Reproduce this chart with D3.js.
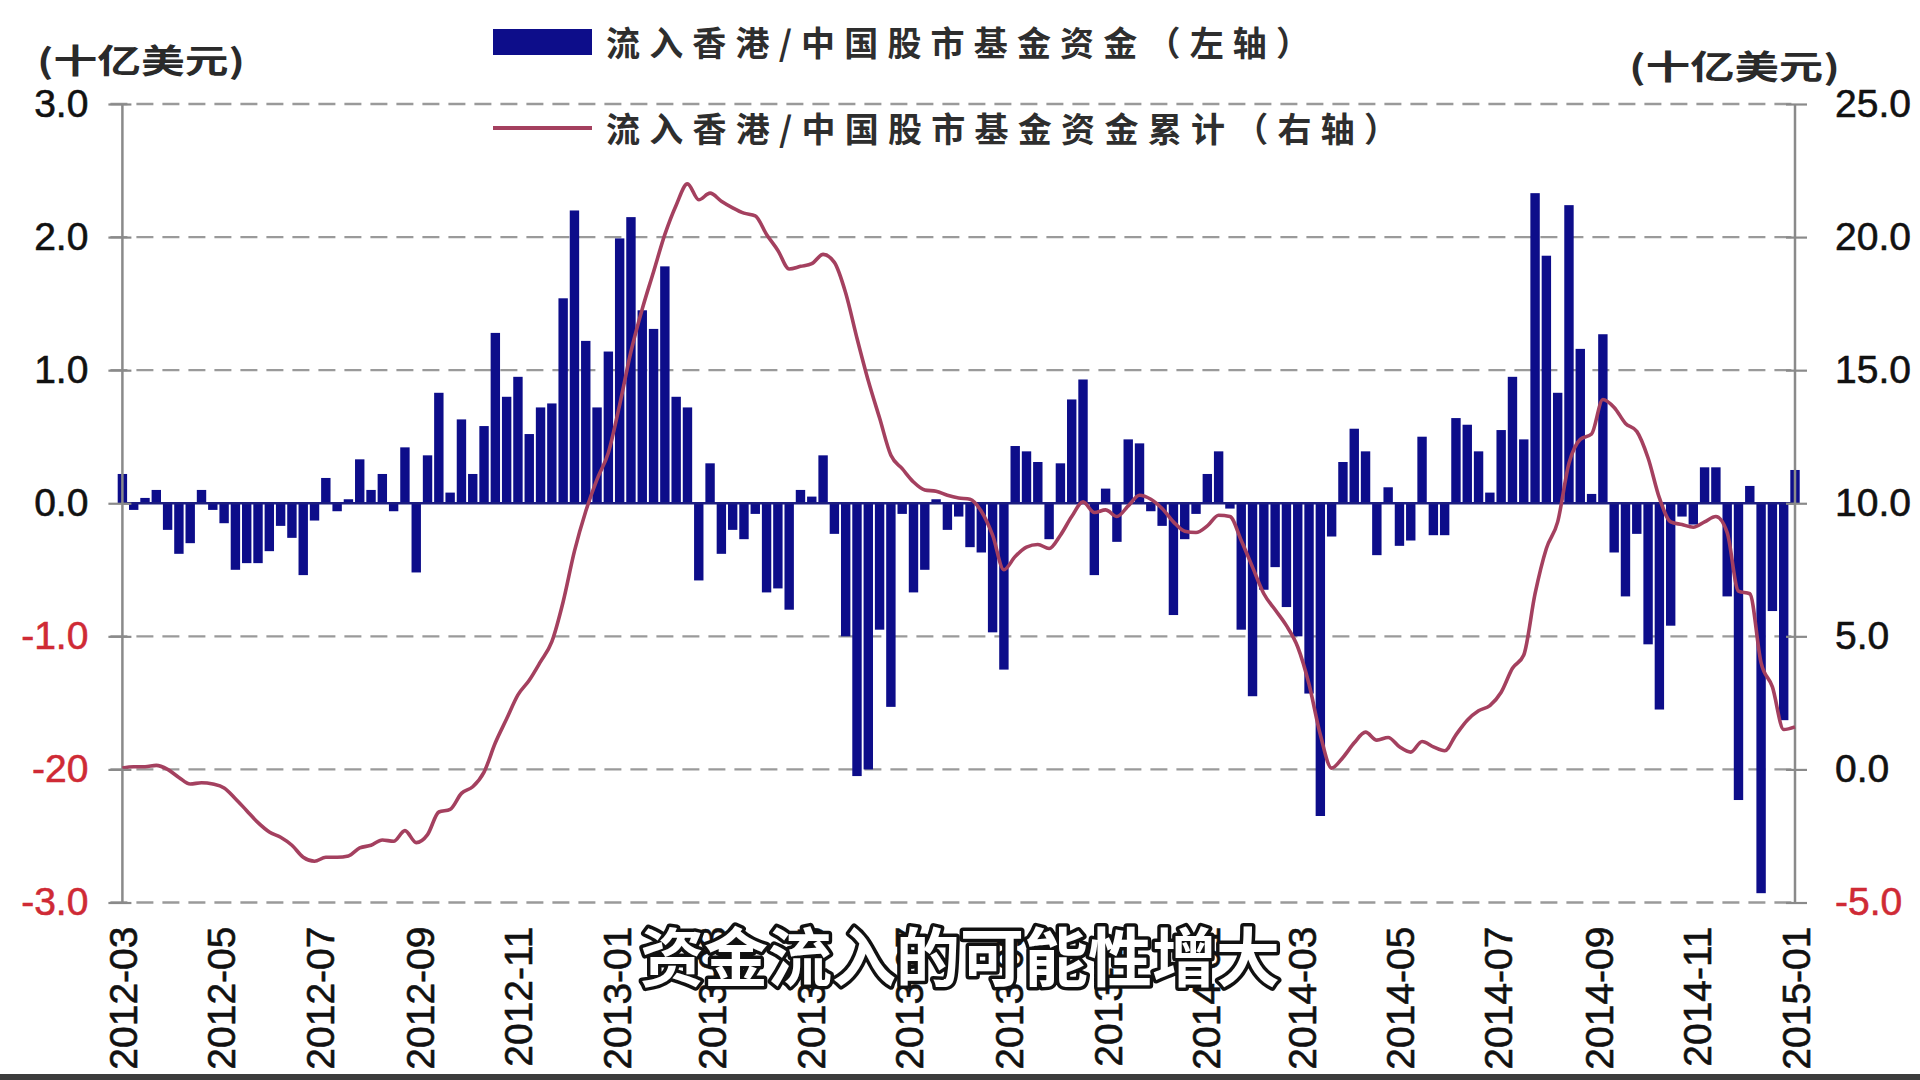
<!DOCTYPE html>
<html>
<head>
<meta charset="utf-8">
<script src="https://cdn.jsdelivr.net/npm/d3@7"></script>
<style>
  html, body { margin: 0; padding: 0; background: #ffffff; }
  svg { display: block; }
</style>
</head>
<body>
<svg id="chart" width="1920" height="1080"></svg>
<script>
// ---------------- DATA ----------------
const startWeek = "2012-03-01";          // first weekly observation
const endWeek = "2015-01-01";

// weekly fund flows into HK / China equity funds, USD bn (left axis)
const flows = [
  0.22, -0.05, 0.04, 0.10, -0.20, -0.38, -0.30, 0.10, -0.05, -0.15,
  -0.50, -0.45, -0.45, -0.36, -0.17, -0.26, -0.54, -0.13, 0.19,
  -0.06, 0.03, 0.33, 0.10, 0.22, -0.06, 0.42, -0.52, 0.36, 0.83,
  0.08, 0.63, 0.22, 0.58, 1.28, 0.80, 0.95, 0.52, 0.72, 0.75,
  1.54, 2.20, 1.22,
  0.72, 1.14, 1.99, 2.15, 1.45, 1.31, 1.78, 0.80, 0.72, -0.58,
  0.30, -0.38, -0.20,
  -0.27, -0.08, -0.67, -0.64, -0.80, 0.10, 0.05, 0.36, -0.23, -1.00,
  -2.05, -2.00, -0.95, -1.53, -0.08, -0.67, -0.50, 0.03, -0.20, -0.10,
  -0.33, -0.37, -0.97, -1.25,
  0.43, 0.39, 0.31, -0.27, 0.30, 0.78, 0.93, -0.54, 0.11, -0.29,
  0.48, 0.45, -0.06, -0.17, -0.84, -0.27, -0.08, 0.22, 0.39, -0.04,
  -0.95, -1.45,
  -0.65, -0.48, -0.78, -1.00, -1.43, -2.35, -0.25, 0.31, 0.56, 0.39,
  -0.39, 0.12, -0.32, -0.28, 0.50, -0.24, -0.24, 0.64, 0.59, 0.39,
  0.08, 0.55, 0.95, 0.48,
  2.33, 1.86, 0.83, 2.24, 1.16, 0.07, 1.27, -0.37, -0.70, -0.23,
  -1.06, -1.55, -0.92, -0.10, -0.16, 0.27, 0.27, -0.70, -2.23, 0.13,
  -2.93, -0.81, -1.63, 0.25
];

// cumulative flows, USD bn (right axis)
const cumulative = [
  0.05, 0.10, 0.10, 0.15, 0.00, -0.30, -0.55, -0.50, -0.55, -0.70,
  -1.10, -1.55, -2.00, -2.35, -2.55, -2.85, -3.30, -3.45, -3.30,
  -3.30, -3.25, -2.95, -2.85, -2.65, -2.70, -2.30, -2.75, -2.45, -1.60,
  -1.50, -0.90, -0.65, -0.10, 1.00, 1.90, 2.80, 3.35, 4.05, 4.80,
  6.30, 8.20, 9.70,
  10.90, 11.90, 13.70, 15.70, 17.30, 18.70, 20.10, 21.20, 22.00, 21.40,
  21.65, 21.35, 21.10,
  20.90, 20.80, 20.10, 19.50, 18.80, 18.90, 19.00, 19.35, 19.05, 17.90,
  16.20, 14.60, 13.20, 11.80, 11.30, 10.80, 10.50, 10.45, 10.30, 10.20,
  10.15, 9.70, 8.80, 7.50,
  8.00, 8.35, 8.45, 8.30, 8.80, 9.50, 10.05, 9.65, 9.75, 9.50,
  9.90, 10.30, 10.15, 9.80, 9.30, 8.95, 8.90, 9.15, 9.55, 9.50,
  8.60, 7.60,
  6.60, 6.00, 5.40, 4.60, 3.20, 1.30, 0.05, 0.45, 1.00, 1.40,
  1.10, 1.20, 0.85, 0.65, 1.05, 0.85, 0.70, 1.30, 1.85, 2.20,
  2.40, 2.90, 3.80, 4.30,
  6.60, 8.30, 9.30, 11.50, 12.40, 12.60, 13.90, 13.60, 13.00, 12.70,
  11.70, 10.20, 9.30, 9.20, 9.10, 9.30, 9.50, 8.90, 6.70, 6.60,
  4.00, 3.10, 1.50, 1.60
];

const xTickLabels = [
  "2012-03", "2012-05", "2012-07", "2012-09", "2012-11",
  "2013-01", "2013-03", "2013-05", "2013-07", "2013-09", "2013-11",
  "2014-01", "2014-03", "2014-05", "2014-07", "2014-09", "2014-11",
  "2015-01"
];
const leftTickValues = [3, 2, 1, 0, -1, -2, -3];
const leftTickLabels = ["3.0", "2.0", "1.0", "0.0", "-1.0", "-20", "-3.0"];
const rightTickValues = [25, 20, 15, 10, 5, 0, -5];
const rightTickLabels = ["25.0", "20.0", "15.0", "10.0", "5.0", "0.0", "-5.0"];

const legendLabels = ["流入香港/中国股市基金资金（左轴）", "流入香港/中国股市基金资金累计（右轴）"];
const unitLabel = "(十亿美元)";
const subtitle = "资金流入的可能性增大";

// ---------------- LAYOUT ----------------
const svg = d3.select("#chart");
const parseDay = d3.timeParse("%Y-%m-%d");
const parseMonth = d3.timeParse("%Y-%m");
const start = parseDay(startWeek);
const weeks = flows.map((_, i) => d3.timeDay.offset(start, 7 * i));

const plotLeft = 122.4, plotRight = 1795, plotTop = 104, plotBottom = 902.5;

const x = d3.scaleTime().domain([start, parseDay(endWeek)]).range([plotLeft, plotRight]);
const yL = d3.scaleLinear().domain([-3, 3]).range([plotBottom, plotTop]);
const yR = d3.scaleLinear().domain([-5, 25]).range([plotBottom, plotTop]);

const numFont = "'Liberation Sans', Arial, sans-serif";
const cjkFont = "'Noto Sans CJK SC', 'Noto Sans', sans-serif";
const red = "#cf2a35";
const navy = "#0d0d8a";
const lineColor = "#a4405f";

// gridlines (dashed), except at zero
const grid = svg.append("g");
grid.selectAll("line")
  .data(leftTickValues.filter(v => v !== 0))
  .join("line")
  .attr("x1", plotLeft - 12).attr("x2", plotRight)
  .attr("y1", d => yL(d)).attr("y2", d => yL(d))
  .attr("stroke", "#9a9a9a").attr("stroke-width", 2.4)
  .attr("stroke-dasharray", "17,9");

// bars
const barW = 9.4;
svg.append("g").selectAll("rect")
  .data(flows)
  .join("rect")
  .attr("x", (d, i) => x(weeks[i]) - barW / 2)
  .attr("y", d => yL(Math.max(0, d)))
  .attr("width", barW)
  .attr("height", d => Math.abs(yL(d) - yL(0)))
  .attr("fill", navy);

// zero line
svg.append("line")
  .attr("x1", plotLeft).attr("x2", plotRight)
  .attr("y1", yL(0)).attr("y2", yL(0))
  .attr("stroke", "#1c1c80").attr("stroke-width", 2.5);

// axis lines
svg.append("line").attr("x1", plotLeft).attr("x2", plotLeft)
  .attr("y1", plotTop).attr("y2", plotBottom)
  .attr("stroke", "#8a8a8a").attr("stroke-width", 2.5);
svg.append("line").attr("x1", plotRight).attr("x2", plotRight)
  .attr("y1", plotTop).attr("y2", plotBottom)
  .attr("stroke", "#8a8a8a").attr("stroke-width", 2.5);

// cumulative line
const line = d3.line()
  .x((d, i) => x(weeks[i]))
  .y(d => yR(d))
  .curve(d3.curveMonotoneX);
svg.append("path")
  .datum(cumulative)
  .attr("d", line)
  .attr("fill", "none")
  .attr("stroke", lineColor)
  .attr("stroke-width", 3.6)
  .attr("stroke-linejoin", "round");

// left axis
const leftAxis = svg.append("g")
  .attr("transform", `translate(${plotLeft},0)`)
  .call(d3.axisLeft(yL).tickValues(leftTickValues)
    .tickFormat((d, i) => leftTickLabels[i]).tickSize(0).tickPadding(34));
leftAxis.select(".domain").remove();
leftAxis.selectAll("text")
  .attr("font-family", numFont).attr("font-size", 39)
  .attr("fill", d => d < 0 ? red : "#111")
  .attr("stroke", d => d < 0 ? red : "#111").attr("stroke-width", 0.6);
leftAxis.selectAll(".tick").append("line")
  .attr("x1", -14).attr("x2", 9).attr("stroke", "#8a8a8a").attr("stroke-width", 2.2);

// right axis
const rightAxis = svg.append("g")
  .attr("transform", `translate(${plotRight},0)`)
  .call(d3.axisRight(yR).tickValues(rightTickValues)
    .tickFormat((d, i) => rightTickLabels[i]).tickSize(0).tickPadding(40));
rightAxis.select(".domain").remove();
rightAxis.selectAll("text")
  .attr("font-family", numFont).attr("font-size", 39)
  .attr("fill", d => d < 0 ? red : "#111")
  .attr("stroke", d => d < 0 ? red : "#111").attr("stroke-width", 0.6);
rightAxis.selectAll(".tick").append("line")
  .attr("x1", -9).attr("x2", 12).attr("stroke", "#8a8a8a").attr("stroke-width", 2.2);

// bottom (date) axis
const xTickDates = xTickLabels.map(s => parseMonth(s));
const bottomAxis = svg.append("g")
  .attr("transform", `translate(0,${plotBottom})`)
  .call(d3.axisBottom(x).tickValues(xTickDates)
    .tickFormat((d, i) => xTickLabels[i]).tickSize(0));
bottomAxis.select(".domain").remove();
bottomAxis.selectAll("text")
  .attr("transform", "rotate(-90)")
  .attr("x", -24).attr("y", 0).attr("dy", "0.36em")
  .attr("text-anchor", "end")
  .attr("font-family", numFont).attr("font-size", 39)
  .attr("fill", "#111").attr("stroke", "#111").attr("stroke-width", 0.6);

// unit labels
svg.append("text").attr("x", 37).attr("y", 61).attr("dy", "0.36em")
  .attr("font-family", cjkFont).attr("font-size", 33).attr("font-weight", 700)
  .attr("fill", "#2a2a2a")
  .attr("textLength", 208).attr("lengthAdjust", "spacingAndGlyphs")
  .text(unitLabel);
svg.append("text").attr("x", 1629).attr("y", 67).attr("dy", "0.36em")
  .attr("font-family", cjkFont).attr("font-size", 33).attr("font-weight", 700)
  .attr("fill", "#2a2a2a")
  .attr("textLength", 211).attr("lengthAdjust", "spacingAndGlyphs")
  .text(unitLabel);

// legend
const legend = svg.append("g");
legend.append("rect").attr("x", 493).attr("y", 29).attr("width", 99).attr("height", 26)
  .attr("fill", navy);
legend.append("line").attr("x1", 493).attr("x2", 592).attr("y1", 128).attr("y2", 128)
  .attr("stroke", lineColor).attr("stroke-width", 4);
legend.selectAll("text.leg")
  .data(legendLabels)
  .join("text")
  .attr("class", "leg")
  .attr("x", 606)
  .attr("y", (d, i) => i === 0 ? 44 : 130)
  .attr("dy", "0.36em")
  .attr("font-family", cjkFont).attr("font-size", 34).attr("font-weight", 700)
  .attr("fill", "#2e2e2e")
  .attr("textLength", (d, i) => i === 0 ? 704 : 792)
  .attr("lengthAdjust", "spacing")
  .text(d => d);

// subtitle overlay
svg.append("text")
  .attr("x", 960).attr("y", 958).attr("dy", "0.36em")
  .attr("text-anchor", "middle")
  .attr("font-family", cjkFont).attr("font-weight", 700).attr("font-size", 64)
  .attr("fill", "#ffffff").attr("stroke", "#111111").attr("stroke-width", 7)
  .attr("stroke-linejoin", "round").attr("paint-order", "stroke")
  .text(subtitle);

// bottom dark strip
svg.append("rect").attr("x", 0).attr("y", 1074).attr("width", 1920).attr("height", 6)
  .attr("fill", "#3c3c3c");
</script>
</body>
</html>
